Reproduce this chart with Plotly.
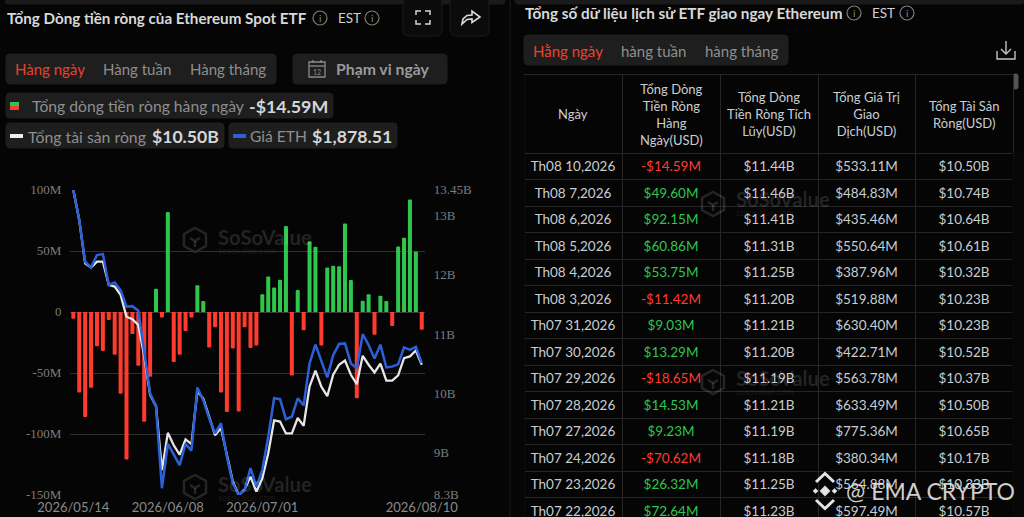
import plotly.graph_objects as go

dates = ["2026/05/14","2026/05/15","2026/05/18","2026/05/19","2026/05/20","2026/05/21","2026/05/22","2026/05/26","2026/05/27","2026/05/28",
         "2026/05/29","2026/06/01","2026/06/02","2026/06/03","2026/06/04","2026/06/05","2026/06/08","2026/06/09","2026/06/10","2026/06/11",
         "2026/06/12","2026/06/15","2026/06/16","2026/06/17","2026/06/18","2026/06/22","2026/06/23","2026/06/24","2026/06/25","2026/06/26",
         "2026/06/29","2026/06/30","2026/07/01","2026/07/02","2026/07/06","2026/07/07","2026/07/08","2026/07/09","2026/07/10","2026/07/13",
         "2026/07/14","2026/07/15","2026/07/16","2026/07/17","2026/07/20","2026/07/21","2026/07/22","2026/07/23","2026/07/24","2026/07/27",
         "2026/07/28","2026/07/29","2026/07/30","2026/07/31","2026/08/03","2026/08/04","2026/08/05","2026/08/06","2026/08/07","2026/08/10"]
net_flow_m = [-5.5,-66,-86,-62,-28,-32,-6.5,-35,-67,-121,-18,-44,-90,-53,19,-4.5,82,-41,-35,-15.5,-4.5,22,9,-29,-12.5,-66,-82,-30,-81.5,-12.5,
              -29.5,-27.5,14.5,29,20,26.5,70.5,-52,18,-15,58,53.5,-27.5,36.5,38,37.5,72.64,26.32,-70.62,9.23,14.53,-18.65,13.29,9.03,-11.42,53.75,60.86,92.15,49.60,-14.59]
net_assets_b = [13.45,12.94,12.21,12.14,12.24,12.24,11.85,11.82,11.68,11.31,11.27,11.17,10.64,9.99,9.80,8.72,9.35,9.14,8.98,9.24,
                9.16,10.05,9.93,9.60,9.31,9.43,8.95,8.53,8.30,8.39,8.61,8.36,8.58,9.00,9.56,9.54,9.34,9.34,9.60,9.47,
                10.13,10.40,10.13,9.97,10.33,10.50,10.57,10.33,10.17,10.65,10.50,10.37,10.52,10.23,10.23,10.32,10.61,10.64,10.74,10.50]
eth_price = [2440,2343,2207,2189,2229,2232,2132,2140,2115,2061,2063,2048,1915,1780,1737,1472,1616,1580,1547,1616,
             1594,1799,1758,1699,1650,1683,1574,1488,1450,1466,1537,1477,1531,1639,1764,1761,1696,1704,1764,1741,
             1877,1938,1883,1832,1904,1940,1942,1877,1861,1972,1937,1893,1938,1864,1867,1874,1929,1921,1931,1878.51]

x_tick_vals = ["2026/05/14","2026/06/08","2026/07/01","2026/08/10"]
y_tick_vals = [100,50,0,-50,-100,-150]
y_tick_text = ["100M","50M","0","-50M","-100M","-150M"]
y2_tick_vals = [13.45,13,12,11,10,9,8.3]
y2_tick_text = ["13.45B","13B","12B","11B","10B","9B","8.3B"]

col_headers = ["Ngày","Tổng Dòng<br>Tiền Ròng<br>Hàng<br>Ngày(USD)","Tổng Dòng<br>Tiền Ròng Tích<br>Lũy(USD)","Tổng Giá Trị<br>Giao<br>Dịch(USD)","Tổng Tài Sản<br>Ròng(USD)"]
t_date = ["Th08\u00a010,2026","Th08\u00a07,2026","Th08\u00a06,2026","Th08\u00a05,2026","Th08\u00a04,2026","Th08\u00a03,2026","Th07\u00a031,2026","Th07\u00a030,2026","Th07\u00a029,2026","Th07\u00a028,2026","Th07\u00a027,2026","Th07\u00a024,2026","Th07\u00a023,2026","Th07\u00a022,2026"]
t_flow = ["-$14.59M","$49.60M","$92.15M","$60.86M","$53.75M","-$11.42M","$9.03M","$13.29M","-$18.65M","$14.53M","$9.23M","-$70.62M","$26.32M","$72.64M"]
t_cum = ["$11.44B","$11.46B","$11.41B","$11.31B","$11.25B","$11.20B","$11.21B","$11.20B","$11.19B","$11.21B","$11.19B","$11.18B","$11.25B","$11.23B"]
t_val = ["$533.11M","$484.83M","$435.46M","$550.64M","$387.96M","$519.88M","$630.40M","$422.71M","$563.78M","$633.49M","$775.36M","$380.34M","$564.88M","$597.49M"]
t_nav = ["$10.50B","$10.74B","$10.64B","$10.61B","$10.32B","$10.23B","$10.23B","$10.52B","$10.37B","$10.50B","$10.65B","$10.17B","$10.33B","$10.57B"]

W, H = 1024, 517
BG = "#050505"
GREEN = "#2fc64e"
RED = "#ff3b2f"
BLUE = "#2b60d8"
WHITE = "#e6e6e6"
PILL = "#1e1e1e"
GREY = "#8e8e8e"
FONT = "Lato"
TABLE_LINE = "#262626"

def px(x): return x / W
def py(y): return 1 - y / H

shapes, annos = [], []

def rect(x0, y0, x1, y1, fill, line=None, r=0):
    if r:
        p = (f"M{px(x0+r)},{py(y0)} L{px(x1-r)},{py(y0)} Q{px(x1)},{py(y0)} {px(x1)},{py(y0+r)} "
             f"L{px(x1)},{py(y1-r)} Q{px(x1)},{py(y1)} {px(x1-r)},{py(y1)} L{px(x0+r)},{py(y1)} "
             f"Q{px(x0)},{py(y1)} {px(x0)},{py(y1-r)} L{px(x0)},{py(y0+r)} Q{px(x0)},{py(y0)} {px(x0+r)},{py(y0)} Z")
        shapes.append(dict(type="path", xref="paper", yref="paper", path=p, fillcolor=fill,
                           line=dict(color=line or fill, width=1), layer="below"))
    else:
        shapes.append(dict(type="rect", xref="paper", yref="paper", x0=px(x0), x1=px(x1), y0=py(y0), y1=py(y1),
                           fillcolor=fill, line=dict(color=line or fill, width=1 if line else 0), layer="below"))

def poly(points, color, width=1.5, fill=None, closed=False, layer="above"):
    p = "M" + " L".join(f"{px(a)},{py(b)}" for a, b in points) + (" Z" if closed else "")
    shapes.append(dict(type="path", xref="paper", yref="paper", path=p, fillcolor=fill or "rgba(0,0,0,0)",
                       line=dict(color=color, width=width), layer=layer))

def circle(cx, cy, r, color, width=1.2):
    shapes.append(dict(type="circle", xref="paper", yref="paper", x0=px(cx-r), x1=px(cx+r), y0=py(cy-r), y1=py(cy+r),
                       line=dict(color=color, width=width), fillcolor="rgba(0,0,0,0)"))

def txt(x, y, s, size=15, color=GREY, anchor="left", bold=False, family=FONT, opacity=1):
    annos.append(dict(xref="paper", yref="paper", x=px(x), y=py(y), text=f"<b>{s}</b>" if bold else s, showarrow=False,
                      xanchor=anchor, yanchor="middle", font=dict(size=size, color=color, family=family),
                      borderpad=0, opacity=opacity))

def info(cx, cy):
    circle(cx, cy, 7, "#7d7d7d")
    txt(cx, cy, "i", 10, "#8d8d8d", "center")

def watermark(lx, ly, tx, ty, sy, layer="below"):
    color = "rgba(255,255,255,0.13)"
    color2 = "rgba(255,255,255,0.09)"
    hexa = [(lx, ly-12), (lx+11, ly-6), (lx+11, ly+6), (lx, ly+12), (lx-11, ly+6), (lx-11, ly-6)]
    poly(hexa, color, 2.5, closed=True, layer=layer)
    poly([(lx-5, ly-2), (lx, ly+1), (lx+5, ly-2)], color, 2.5, layer=layer)
    poly([(lx, ly+1), (lx, ly+7)], color, 2.5, layer=layer)
    txt(tx, ty, "SoSoValue", 20.3, color, "left", True)
    txt(tx, sy, "sosovalue.com", 9, color2, "left")

# top chrome
rect(5, -4, 505, 4, "#1a1a1a", r=3)
rect(515, -4, 1024, 4, "#1a1a1a", r=3)
rect(509.5, 0, 510.5, 517, "#1a1a1a")
rect(403, -8, 442, 36, "#0b0b0b", "#1c1c1c", r=6)
rect(450, -8, 489, 36, "#0b0b0b", "#1c1c1c", r=6)

# fullscreen icon
for a, b, c in [((416, 15), (416, 11), (421, 11)), ((425, 11), (430, 11), (430, 15)),
                ((416, 20), (416, 24), (421, 24)), ((425, 24), (430, 24), (430, 20))]:
    poly([a, b, c], "#d5d5d5", 1.5)
# share icon
poly([(462, 24), (463, 19), (467, 15.5), (472, 15), (472, 11), (480, 17), (472, 22.5), (472, 19), (467, 19.5)],
     "#dcdcdc", 1.6, fill="#0b0b0b", closed=True)

# left title and controls
txt(6, 18, "Tổng Dòng tiền ròng của Ethereum Spot ETF", 15.2, "#d8d8d8", bold=True)
info(320, 18)
txt(337, 18, "EST", 13.5, "#d0d0d0")
info(372, 18)
rect(6, 54, 276, 84, PILL, r=4)
txt(14, 69, "Hàng ngày", 15, "#e8432d")
txt(102, 69, "Hàng tuần", 15, GREY)
txt(189, 69, "Hàng tháng", 15, GREY)
rect(293, 54, 447, 84, PILL, r=4)
poly([(309, 62), (325, 62), (325, 77), (309, 77)], "#8a8a8a", 1.3, closed=True)
poly([(309, 66), (325, 66)], "#8a8a8a", 1.3)
poly([(313, 60), (313, 63)], "#8a8a8a", 1.3)
poly([(321, 60), (321, 63)], "#8a8a8a", 1.3)
txt(317, 72, "12", 7, "#8a8a8a", "center")
txt(335, 69, "Phạm vi ngày", 15.8, "#9a9a9a", bold=True)
rect(6, 93, 333, 118, PILL, r=4)
rect(10, 102, 19, 106, GREEN)
rect(10, 106, 19, 110, RED)
txt(31, 106, "Tổng dòng tiền ròng hàng ngày", 15.7, GREY)
txt(248, 106, "-$14.59M", 17.8, "#d6d6d6", bold=True)
rect(6, 123, 224, 148, PILL, r=4)
rect(10, 134, 23, 138, "#ededed")
txt(27, 136, "Tổng tài sản ròng", 15.8, GREY)
txt(151, 136, "$10.50B", 17.6, "#d6d6d6", bold=True)
rect(229, 123, 397, 148, PILL, r=4)
rect(233, 134, 246, 138, BLUE)
txt(249, 136, "Giá ETH", 15.6, GREY)
txt(311, 136, "$1,878.51", 17.7, "#d6d6d6", bold=True)

# right title and controls
txt(524, 13, "Tổng số dữ liệu lịch sử ETF giao ngay Ethereum", 15.3, "#d8d8d8", bold=True)
info(854, 13)
txt(871, 13, "EST", 13.5, "#d0d0d0")
info(907, 13)
rect(524, 35, 788, 65, PILL, r=4)
txt(532, 51, "Hằng ngày", 15, "#e8432d")
txt(620, 51, "hàng tuần", 15, GREY)
txt(704, 51, "hàng tháng", 15, GREY)
poly([(997, 51), (997, 59), (1015, 59), (1015, 51)], "#c4c4c4", 1.4)
poly([(1006, 41), (1006, 54)], "#c4c4c4", 1.4)
poly([(1001, 49), (1006, 54), (1011, 49)], "#c4c4c4", 1.4)
rect(1013, 74, 1018, 89, "#555555", r=2)

# table header labels
col_x = [573, 671, 769, 866.5, 964]
for cx, h in zip(col_x, col_headers):
    txt(cx, 114, h, 13, "#c9cdd1", "center")

# hide the outer table edges the reference does not draw
poly([(524, 75), (524, 517)], BG, 1.5)
poly([(1013, 153), (1013, 517)], BG, 1.5)

# watermarks
watermark(195, 240, 217, 237, 250)
watermark(195, 487, 217, 484, 497)
watermark(713, 204, 735, 199, 212, "above")
watermark(713, 382, 735, 378, 391, "above")

# EMA CRYPTO mark
for cx, cy, r in [(825, 491, 5.2), (815.5, 491, 2.6), (834.5, 491, 2.6)]:
    poly([(cx, cy-r), (cx+r, cy), (cx, cy+r), (cx-r, cy)], "#e4e4e4", 0.5, fill="#e4e4e4", closed=True)
poly([(816, 482), (825, 473.5), (834, 482)], "#e4e4e4", 3)
poly([(816, 500), (825, 508.5), (834, 500)], "#e4e4e4", 3)
txt(845, 491, "@ EMA CRYPTO", 23, "rgba(235,235,235,0.88)")

fig = go.Figure()
fig.add_trace(go.Bar(x=dates, y=net_flow_m, width=0.68,
                     marker=dict(color=[GREEN if v >= 0 else RED for v in net_flow_m], line=dict(width=0), cornerradius=1.5),
                     name="Tổng dòng tiền ròng hàng ngày"))
fig.add_trace(go.Scatter(x=dates, y=net_assets_b, yaxis="y2", mode="lines", line=dict(color=WHITE, width=2.3),
                         name="Tổng tài sản ròng"))
fig.add_trace(go.Scatter(x=dates, y=eth_price, yaxis="y3", mode="lines", line=dict(color=BLUE, width=2.5),
                         name="Giá ETH"))

row_h = 26.5
header_h = 79
fig.add_trace(go.Table(
    domain=dict(x=[px(524), px(1013)], y=[0, py(74)]),
    columnwidth=[98, 98, 98, 97, 98],
    header=dict(values=["", "", "", "", ""], height=header_h, fill_color=BG, line_color=TABLE_LINE,
                font=dict(family=FONT, size=13, color="#c9cdd1")),
    cells=dict(values=[t_date, t_flow, t_cum, t_val, t_nav], height=row_h, align="center", fill_color=BG,
               line_color=TABLE_LINE,
               font=dict(family=FONT, size=13.5,
                         color=["#c9cdd1", [RED if s.startswith("-") else "#2fc64e" for s in t_flow],
                                "#c9cdd1", "#c9cdd1", "#c9cdd1"]))))

fig.update_layout(
    width=W, height=H, autosize=False, margin=dict(l=0, r=0, t=0, b=0),
    paper_bgcolor=BG, plot_bgcolor=BG, showlegend=False, bargap=0.3,
    shapes=shapes, annotations=annos, font=dict(family=FONT),
    xaxis=dict(domain=[px(70.4), px(424.7)], type="category", categoryorder="array", categoryarray=dates,
               tickmode="array", tickvals=x_tick_vals, ticktext=x_tick_vals, showgrid=False, zeroline=False,
               showline=False, ticks="", anchor="y", range=[-0.5, 59.5], ticklabelstandoff=3,
               tickfont=dict(family="Lato", size=13, color="#8a8a8a"), automargin=False),
    yaxis=dict(domain=[py(495), py(190)], range=[-150, 100], tickmode="array", tickvals=y_tick_vals,
               ticktext=y_tick_text, gridcolor="#303030", gridwidth=1, zeroline=True, zerolinecolor="#3a3a3a",
               zerolinewidth=1, ticklabelstandoff=8, ticklabelshift=-1,
               tickfont=dict(family="Liberation Serif", size=13, color="#7c7c7c"), automargin=False),
    yaxis2=dict(domain=[py(495), py(190)], range=[8.3, 13.45], overlaying="y", side="right", anchor="x",
                tickmode="array", tickvals=y2_tick_vals, ticktext=y2_tick_text, showgrid=False, zeroline=False,
                ticklabelstandoff=8, ticklabelshift=-1,
                tickfont=dict(family="Liberation Serif", size=13, color="#7c7c7c"), automargin=False),
    yaxis3=dict(domain=[py(495), py(190)], range=[1450, 2440], overlaying="y", anchor="x", visible=False),
)

fig.write_html("out.html", config=dict(displayModeBar=False),
               post_script="document.body.style.margin='0';document.body.style.overflow='hidden';document.body.style.background='#050505';")
